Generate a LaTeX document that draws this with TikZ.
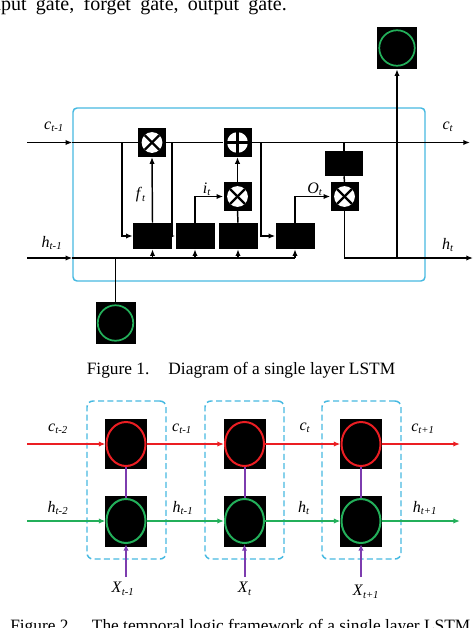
\documentclass[tikz,border=0pt]{standalone}
\usepackage{fontspec}
\setmainfont{Liberation Serif}
\usetikzlibrary{arrows.meta,shapes.geometric}
\definecolor{cellcyan}{RGB}{70,185,225}
\definecolor{myred}{RGB}{235,30,35}
\definecolor{mygreen}{RGB}{35,175,90}
\definecolor{mypurple}{RGB}{125,60,175}
\newcommand\mylab[2]{\textit{#1}\textsubscript{\textit{#2}}}
\begin{document}
\begin{tikzpicture}[x=0.75pt,y=-0.75pt,
  ln/.style={line width=1.1pt,black},
  arr/.style={-{Latex[length=5pt,width=4pt]}},
  blk/.style={fill=black,draw=none,inner sep=0pt},
  gatebox/.style={blk,minimum width=29.25pt,minimum height=19.5pt},
  mulbox/.style={blk,minimum width=21pt,minimum height=21.5pt,
    path picture={
      \fill[white] (path picture bounding box.center) circle (7.8pt);
      \draw[line width=1.6pt] (path picture bounding box.center) ++(-5.5pt,-5.5pt) -- ++(11pt,11pt);
      \draw[line width=1.6pt] (path picture bounding box.center) ++(-5.5pt,5.5pt) -- ++(11pt,-11pt);
    }},
  addbox/.style={blk,minimum width=21pt,minimum height=21.5pt,
    path picture={
      \fill[white] (path picture bounding box.center) circle (7.8pt);
      \draw[line width=1.6pt] (path picture bounding box.center) ++(-7.8pt,0pt) -- ++(15.6pt,0pt);
      \draw[line width=1.6pt] (path picture bounding box.center) ++(0pt,-7.8pt) -- ++(0pt,15.6pt);
    }},
  gbox/.style={blk,minimum width=30pt,minimum height=31.5pt,
    path picture={
      \draw[mygreen,line width=1.3pt] (path picture bounding box.center) circle (13.3pt);
    }},
  sq/.style={blk,minimum width=31.5pt,minimum height=38pt},
  redell/.style={ellipse,draw=myred,line width=1.5pt,minimum width=29.25pt,minimum height=33pt,inner sep=0pt},
  greenell/.style={ellipse,draw=mygreen,line width=1.5pt,minimum width=29.25pt,minimum height=33pt,inner sep=0pt},
  dbox/.style={draw=cellcyan,line width=1.1pt,dash pattern=on 4.5pt off 2.5pt,rounded corners=4.5pt,minimum width=59.25pt,minimum height=118.5pt,inner sep=0pt},
  txt/.style={font=\fontsize{12}{14}\selectfont,inner sep=0pt},
  captxt/.style={font=\fontsize{13}{15}\selectfont,inner sep=0pt},
  bodytxt/.style={font=\fontsize{15}{17}\selectfont,inner sep=0pt}
]
\useasboundingbox (0,0) rectangle (474,628);
\clip (0,0) rectangle (474,628);

% cut-off text at the top
\node[bodytxt,anchor=base east] (toptext) at (287,10) {input\hspace{7pt}gate,\hspace{7pt}forget\hspace{7pt}gate,\hspace{7pt}output\hspace{7pt}gate.};

% ---------- Figure 1 ----------
\node[draw=cellcyan,line width=1.1pt,rounded corners=3pt,minimum width=264pt,minimum height=129.75pt,inner sep=0pt] (cell) at (249,194.5) {};
\node[gbox] (topout) at (397,48) {};
\node[gbox] (hin) at (115.5,323) {};
\node[mulbox] (fx) at (152,142.5) {};
\node[addbox] (ad) at (237.5,142.5) {};
\node[mulbox] (ix) at (237.5,196.5) {};
\node[mulbox] (ox) at (344.5,196.5) {};
\node[blk,minimum width=28.5pt,minimum height=18.75pt] (th) at (344,163.5) {};
\node[gatebox] (g1) at (152.5,236) {};
\node[gatebox] (g2) at (195,236) {};
\node[gatebox] (g3) at (238,236) {};
\node[gatebox] (g4) at (295,236) {};

\coordinate (cin) at (27,142.5);
\coordinate (cout) at (470,142.5);
\coordinate (hl) at (27,258);
\coordinate (hout) at (473,258);
\coordinate (b1) at (122,142.5);
\coordinate (b2) at (172,142.5);
\coordinate (b3) at (261,142.5);

% cell state line
\draw[ln,arr] (cin) -- (cin -| cell.west);
\draw[ln] (cin -| cell.west) -- (fx.west);
\draw[ln] (fx.east) -- (ad.west);
\draw[ln,arr] (ad.east) -- (cout);
% branches to gates
\draw[ln,arr] (b1) |- (g1.west);
\draw[ln,arr] (b2) |- (g2.west);
\draw[ln,arr] (b3) |- (g4.west);
% gate outputs
\draw[ln,arr] (g1.north) -- (fx.south);
\draw[ln,arr] (g2.north) |- (ix.west);
\draw[ln] (g3.north) -- (ix.south);
\draw[ln,arr] (ix.north) -- (ad.south);
\draw[ln,arr] (g4.north) |- (ox.west);
\draw[ln] (th.north) -- (th.north |- cin);
\draw[ln] (th.south) -- (ox.north);
\draw[ln,arr] (ox.south) |- (hout);
\draw[ln,arr] (topout.south |- hout) -- (topout.south);
% hidden state line
\draw[ln,arr] (hl) -- (hl -| cell.west);
\draw[ln] (hl -| cell.west) -- (g4.south |- hl);
\draw[ln,arr] (g1.south |- hl) -- (g1.south);
\draw[ln,arr] (g2.south |- hl) -- (g2.south);
\draw[ln,arr] (g3.south |- hl) -- (g3.south);
\draw[ln,arr] (g4.south |- hl) -- (g4.south);
\draw[ln] (hin.north |- hl) -- (hin.north);

% labels
\node[txt] (lc1) at (54,127) {\mylab{c}{t-1}};
\node[txt] (lc2) at (448,127) {\mylab{c}{t}};
\node[txt] (lh1) at (52,243) {\mylab{h}{t-1}};
\node[txt] (lh2) at (448,245) {\mylab{h}{t}};
\node[txt] (lf) at (141,195) {\mylab{f}{t}};
\node[txt] (li) at (207,189) {\mylab{i}{t}};
\node[txt] (lo) at (315,189) {\mylab{O}{t}};

\node[captxt] (cap1) at (241,370) {Figure 1.\hspace{1.1em}Diagram of a single layer LSTM};

% ---------- Figure 2 ----------
\node[dbox] (dA) at (126.5,480) {};
\node[dbox] (dB) at (244.5,480) {};
\node[dbox] (dC) at (361.5,480) {};

\node[sq] (sA) at (126,444) {};
\node[sq] (sB) at (244.5,444) {};
\node[sq] (sC) at (361,444) {};
\node[sq] (tA) at (126,521.5) {};
\node[sq] (tB) at (244.5,521.5) {};
\node[sq] (tC) at (361,521.5) {};

\node[redell] (eA) at (126,444) {};
\node[redell] (eB) at (244.5,444) {};
\node[redell] (eC) at (361,444) {};
\node[greenell] (fA) at (126,521) {};
\node[greenell] (fB) at (244.5,521) {};
\node[greenell] (fC) at (361,521) {};

\coordinate (rin) at (27,444);
\coordinate (rout) at (460,444);
\coordinate (gin) at (27,521);
\coordinate (gout) at (460,521);
\coordinate (xA) at (126,577);
\coordinate (xB) at (244.5,577);
\coordinate (xC) at (361,577);

\begin{scope}[line width=1.5pt]
\draw[myred,arr] (rin) -- (eA.west);
\draw[myred,arr] (eA.east) -- (eB.west);
\draw[myred,arr] (eB.east) -- (eC.west);
\draw[myred,arr] (eC.east) -- (rout);
\draw[mygreen,arr] (gin) -- (fA.west);
\draw[mygreen,arr] (fA.east) -- (fB.west);
\draw[mygreen,arr] (fB.east) -- (fC.west);
\draw[mygreen,arr] (fC.east) -- (gout);
\draw[mypurple] (eA.south) -- (fA.north);
\draw[mypurple] (eB.south) -- (fB.north);
\draw[mypurple] (eC.south) -- (fC.north);
\draw[mypurple,arr] (xA) -- (fA.south);
\draw[mypurple,arr] (xB) -- (fB.south);
\draw[mypurple,arr] (xC) -- (fC.south);
\end{scope}

\node[txt] (c2) at (58,429) {\mylab{c}{t-2}};
\node[txt] (c1) at (182,429) {\mylab{c}{t-1}};
\node[txt] (c0) at (305,428) {\mylab{c}{t}};
\node[txt] (c3) at (423,429) {\mylab{c}{t+1}};
\node[txt] (h2) at (58,508) {\mylab{h}{t-2}};
\node[txt] (h1) at (183,508) {\mylab{h}{t-1}};
\node[txt] (h0) at (304,508) {\mylab{h}{t}};
\node[txt] (h3) at (425,508) {\mylab{h}{t+1}};
\node[txt] (x1) at (123,589) {\mylab{X}{t-1}};
\node[txt] (x0) at (245,589) {\mylab{X}{t}};
\node[txt] (x2) at (366,592) {\mylab{X}{t+1}};

\node[captxt,anchor=base west] (cap2) at (10,631) {Figure 2.\hspace{1.1em}The temporal logic framework of a single layer LSTM};
\end{tikzpicture}
\end{document}
